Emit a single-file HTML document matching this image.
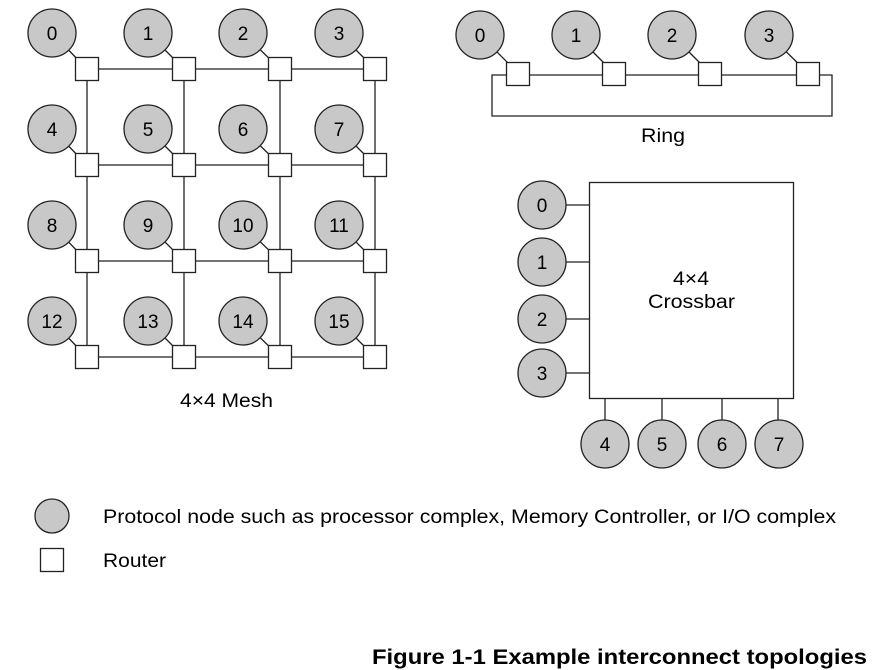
<!DOCTYPE html>
<html><head><meta charset="utf-8"><style>body{margin:0;background:#fff}svg{display:block}text{font-family:"Liberation Sans",Arial,sans-serif}</style></head><body>
<svg width="874" height="670" viewBox="0 0 874 670" xmlns="http://www.w3.org/2000/svg">
<g stroke="#222" stroke-width="1.3" fill="none">
<path d="M87 69H375M87 165H375M87 261H375M87 357H375M87 69V357M184 69V357M280 69V357M375 69V357"/>
<path d="M52 33L87 69M148 33L184 69M243 33L280 69M339 33L375 69M52 129L87 165M148 129L184 165M243 129L280 165M339 129L375 165M52 225L87 261M148 225L184 261M243 225L280 261M339 225L375 261M52 321L87 357M148 321L184 357M243 321L280 357M339 321L375 357"/>
<path d="M492 75H832V116H492Z"/>
<path d="M480 35L518 73M576 35L614 73M672 35L710 73M769 35L808 73"/>
<path d="M542 205H589M542 262H589M542 319H589M542 373H589M605 398V444M662 398V444M722 398V444M778 398V444"/>
</g>
<g fill="#c8c8c8" stroke="#222" stroke-width="1.3">
<circle cx="52" cy="33" r="24"/><circle cx="148" cy="33" r="24"/><circle cx="243" cy="33" r="24"/><circle cx="339" cy="33" r="24"/>
<circle cx="52" cy="129" r="24"/><circle cx="148" cy="129" r="24"/><circle cx="243" cy="129" r="24"/><circle cx="339" cy="129" r="24"/>
<circle cx="52" cy="225" r="24"/><circle cx="148" cy="225" r="24"/><circle cx="243" cy="225" r="24"/><circle cx="339" cy="225" r="24"/>
<circle cx="52" cy="321" r="24"/><circle cx="148" cy="321" r="24"/><circle cx="243" cy="321" r="24"/><circle cx="339" cy="321" r="24"/>
<circle cx="480" cy="35" r="24"/><circle cx="576" cy="35" r="24"/><circle cx="672" cy="35" r="24"/><circle cx="769" cy="35" r="24"/>
<circle cx="542" cy="205" r="24"/><circle cx="542" cy="262" r="24"/><circle cx="542" cy="319" r="24"/><circle cx="542" cy="373" r="24"/>
<circle cx="605" cy="444" r="24"/><circle cx="662" cy="444" r="24"/><circle cx="722" cy="444" r="24"/><circle cx="779" cy="444" r="24"/>
<circle cx="52" cy="516" r="17"/>
</g>
<g fill="#fff" stroke="#222" stroke-width="1.3">
<rect x="75.5" y="57.5" width="23" height="23"/><rect x="172.5" y="57.5" width="23" height="23"/><rect x="268.5" y="57.5" width="23" height="23"/><rect x="363.5" y="57.5" width="23" height="23"/>
<rect x="75.5" y="153.5" width="23" height="23"/><rect x="172.5" y="153.5" width="23" height="23"/><rect x="268.5" y="153.5" width="23" height="23"/><rect x="363.5" y="153.5" width="23" height="23"/>
<rect x="75.5" y="249.5" width="23" height="23"/><rect x="172.5" y="249.5" width="23" height="23"/><rect x="268.5" y="249.5" width="23" height="23"/><rect x="363.5" y="249.5" width="23" height="23"/>
<rect x="75.5" y="345.5" width="23" height="23"/><rect x="172.5" y="345.5" width="23" height="23"/><rect x="268.5" y="345.5" width="23" height="23"/><rect x="363.5" y="345.5" width="23" height="23"/>
<rect x="506.5" y="62.5" width="23" height="23"/><rect x="602.5" y="62.5" width="23" height="23"/><rect x="698.5" y="62.5" width="23" height="23"/><rect x="796.5" y="62.5" width="23" height="23"/>
<rect x="589.5" y="182.5" width="204" height="216"/>
<rect x="40.5" y="548.5" width="23" height="23"/>
</g>
<g font-size="19" fill="#000" text-anchor="middle">
<text x="52" y="40">0</text><text x="148" y="40">1</text><text x="243" y="40">2</text><text x="339" y="40">3</text>
<text x="52" y="136">4</text><text x="148" y="136">5</text><text x="243" y="136">6</text><text x="339" y="136">7</text>
<text x="52" y="232">8</text><text x="148" y="232">9</text><text x="243" y="232">10</text><text x="339" y="232">11</text>
<text x="52" y="328">12</text><text x="148" y="328">13</text><text x="243" y="328">14</text><text x="339" y="328">15</text>
<text x="480" y="42">0</text><text x="576" y="42">1</text><text x="672" y="42">2</text><text x="769" y="42">3</text>
<text x="542" y="212">0</text><text x="542" y="269">1</text><text x="542" y="326">2</text><text x="542" y="380">3</text>
<text x="605" y="451">4</text><text x="662" y="451">5</text><text x="722" y="451">6</text><text x="779" y="451">7</text>
</g>
<g font-size="19" fill="#000">
<text x="180" y="407" textLength="93" lengthAdjust="spacingAndGlyphs">4×4 Mesh</text>
<text x="641" y="142" textLength="44" lengthAdjust="spacingAndGlyphs">Ring</text>
<text x="673" y="285" textLength="36" lengthAdjust="spacingAndGlyphs">4×4</text>
<text x="648" y="308" textLength="87" lengthAdjust="spacingAndGlyphs">Crossbar</text>
<text x="103" y="523" textLength="733" lengthAdjust="spacingAndGlyphs">Protocol node such as processor complex, Memory Controller, or I/O complex</text>
<text x="103" y="567" textLength="63" lengthAdjust="spacingAndGlyphs">Router</text>
<text x="372" y="664" font-weight="bold" font-size="21" textLength="495" lengthAdjust="spacingAndGlyphs">Figure 1-1 Example interconnect topologies</text>
</g>
</svg>
</body></html>
